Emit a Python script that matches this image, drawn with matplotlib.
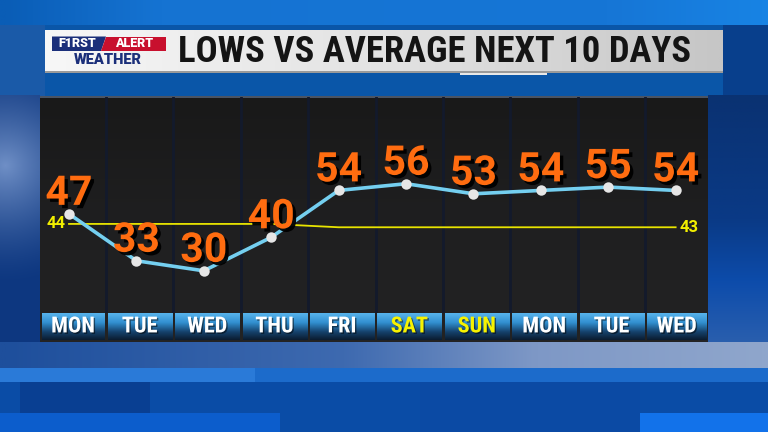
import numpy as np
import matplotlib
matplotlib.use('Agg')
import matplotlib.pyplot as plt
from matplotlib import font_manager as fm
from matplotlib.patches import Rectangle, Polygon
from matplotlib.colors import to_rgb
import matplotlib.patheffects as pe

# ---------------- data ----------------
days = ['MON', 'TUE', 'WED', 'THU', 'FRI', 'SAT', 'SUN', 'MON', 'TUE', 'WED']
lows = [47, 33, 30, 40, 54, 56, 53, 54, 55, 54]
avg_lows = [44, 44, 44, 44, 43, 43, 43, 43, 43, 43]
weekend = ['SAT', 'SUN']
title = 'LOWS VS AVERAGE NEXT 10 DAYS'

# ---------------- fonts ----------------
names = {f.name for f in fm.fontManager.ttflist}


def pick(*cands):
    for n in cands:
        if n in names:
            return n
    return 'DejaVu Sans'


COND = pick('Roboto Condensed', 'Liberation Sans Narrow', 'Roboto')
MAIN = pick('Roboto', 'Liberation Sans')
narrow = COND in ('Roboto Condensed', 'Liberation Sans Narrow')

fig = plt.figure(figsize=(7.68, 4.32), dpi=100)

# ---------------- background (pixel axes) ----------------
bg = fig.add_axes([0, 0, 1, 1])
bg.set_xlim(0, 768)
bg.set_ylim(432, 0)
bg.axis('off')


def rect(x0, y0, x1, y1, color, z=0, **kw):
    bg.add_patch(Rectangle((x0, y0), x1 - x0, y1 - y0, facecolor=color,
                           lw=0, zorder=z, **kw))


def grad(x0, y0, x1, y1, stops, horizontal=False, z=0.5):
    n = 64
    t = np.linspace(0, 1, n)
    pos = [s[0] for s in stops]
    cols = np.array([to_rgb(s[1]) for s in stops])
    arr = np.stack([np.interp(t, pos, cols[:, k]) for k in range(3)], axis=-1)
    arr = arr[np.newaxis, :, :] if horizontal else arr[:, np.newaxis, :]
    bg.imshow(arr, extent=[x0, x1, y1, y0], origin='upper', aspect='auto',
              interpolation='bilinear', zorder=z)


def fit_text(txt, width, max_size):
    fig.canvas.draw()
    w = txt.get_window_extent().width
    txt.set_fontsize(min(max_size, txt.get_fontsize() * width / w))


rect(0, 0, 768, 432, '#0b4596')
grad(0, 0, 768, 30, [(0, '#0a5db6'), (0.2, '#1573d2'), (0.8, '#1676d6'), (1, '#1883e4')], horizontal=True)
rect(0, 25, 768, 100, '#0a56a8', z=0.6)
rect(723, 25, 768, 100, '#083f8c', z=0.7)
rect(0, 25, 45, 97, '#1a5aa8', z=0.7)
# left textured area
yy, xx = np.mgrid[0:250, 0:40]
r = np.sqrt((xx - 5) ** 2 + (yy - 70) ** 2)
light = np.clip(1 - r / 120, 0, 1)
base = np.array(to_rgb('#0d3780'))
hi = np.array(to_rgb('#6f8fc6'))
img = base + (hi - base) * light[..., None] ** 1.5
bg.imshow(img, extent=[0, 40, 345, 95], origin='upper', aspect='auto', zorder=0.8)
# right side
grad(708, 95, 768, 345, [(0, '#0a3272'), (0.5, '#0a3a86'), (0.75, '#0d4cab'), (1, '#2a5fae')], z=0.8)
# lower cloudy strip
grad(0, 342, 768, 368, [(0, '#1e4f9c'), (0.45, '#3e6ab0'), (0.7, '#7e98c6'), (1, '#8fa6cc')], horizontal=True, z=0.8)
rect(0, 368, 768, 382, '#1c6bcb', z=0.9)
rect(0, 368, 255, 382, '#2a7ad8', z=0.95)
rect(0, 382, 768, 432, '#0a4ca6', z=0.9)
rect(20, 382, 150, 432, '#093f92', z=0.95)
rect(420, 382, 640, 432, '#0b4aa4', z=0.95)
rect(0, 413, 280, 432, '#0c5dcc', z=1)
rect(640, 413, 768, 432, '#1272ea', z=1)

# banner
grad(45, 30, 723, 73, [(0, '#f7f7f7'), (0.6, '#dedede'), (1, '#c6c6c6')], horizontal=True, z=2)
rect(45, 71, 723, 73, '#9a9a9a', z=2.1)
rect(460, 73, 547, 75, '#e8e8e8', z=2.1)

# logo
bg.add_patch(Polygon([(52, 36.5), (106, 36.5), (101, 51), (52, 51)], closed=True,
                     facecolor='#1b2f7a', lw=0, zorder=3))
bg.add_patch(Polygon([(106, 36.5), (166, 36.5), (166, 51), (101, 51)], closed=True,
                     facecolor='#c8102e', lw=0, zorder=3))
bg.text(77, 43.8, 'F1RST', ha='center', va='center', color='white', fontsize=9,
        fontweight='heavy', family=MAIN, zorder=4)
bg.text(134, 43.8, 'ALERT', ha='center', va='center', color='white', fontsize=9,
        fontweight='heavy', family=MAIN, zorder=4)
bg.text(108, 60, 'WEATHER', ha='center', va='center', color='#1b2f7a', fontsize=10.5,
        fontweight='heavy', family=MAIN, zorder=4)

# title
t = bg.text(178, 52, title, ha='left', va='center', color='#141414',
            fontsize=24, fontweight='bold', family=COND, zorder=4)
fit_text(t, 514, 27)

# dark panel
grad(40, 97, 708, 342, [(0, '#191919'), (0.5, '#1f1f20'), (1, '#232324')], z=2)
rect(40, 96, 708, 98, '#4a5464', z=2.1)

# ---------------- chart axes ----------------
xmin, xmax = -0.43, 9.48
ax = fig.add_axes([40 / 768, (432 - 313) / 432, 668 / 768, (313 - 97) / 432])
ax.set_xlim(xmin, xmax)
ax.set_ylim(17.4, 81.9)
ax.axis('off')
ax.patch.set_alpha(0)

x = np.arange(len(days))
edges = [xmin] + [k + 0.55 for k in range(len(days) - 1)] + [xmax]
for e in edges[1:-1]:
    ax.axvline(e, color='#131a2c', lw=2.0, zorder=1)

ax.plot(x, avg_lows, color='#e8e400', lw=1.3, zorder=2)
ax.text(x[0] - 0.05, avg_lows[0], str(avg_lows[0]), ha='right', va='center',
        color='#f2ef00', fontsize=12, fontweight='bold', family=MAIN, zorder=3)
ax.text(x[-1] + 0.06, avg_lows[-1], str(avg_lows[-1]), ha='left', va='center',
        color='#f2ef00', fontsize=12, fontweight='bold', family=MAIN, zorder=3)

ax.plot(x, lows, color='#74cff0', lw=2.6, zorder=4, solid_capstyle='round')
ax.plot(x, lows, 'o', color='#e6e6e6', ms=7.5, mew=0, zorder=5)

shadow = [pe.withSimplePatchShadow(offset=(2.4, -2.4), shadow_rgbFace='black', alpha=0.95)]
for xi, v in zip(x, lows):
    ax.annotate(str(v), (xi, v), xytext=(0, 6.5), textcoords='offset points',
                ha='center', va='baseline', fontsize=29.5, fontweight='bold',
                color='#ff6c10', family=MAIN, zorder=6, path_effects=shadow)

# ---------------- day label bar ----------------
lb = fig.add_axes([40 / 768, (432 - 341) / 432, 668 / 768, 28 / 432])
lb.set_xlim(xmin, xmax)
lb.set_ylim(0, 1)
lb.axis('off')
lb.patch.set_alpha(0)
stops = [(0, '#58b4ec'), (0.35, '#3290d0'), (0.7, '#15426c'), (1, '#0b1c30')]
tt = np.linspace(0, 1, 64)
cols = np.array([to_rgb(s[1]) for s in stops])
garr = np.stack([np.interp(tt, [s[0] for s in stops], cols[:, k]) for k in range(3)], axis=-1)[:, None, :]
for i, d in enumerate(days):
    a, b = edges[i] + 0.025, edges[i + 1] - 0.025
    lb.imshow(garr, extent=[a, b, 0.05, 1], origin='upper', aspect='auto',
              interpolation='bilinear', zorder=1)
    lb.text((edges[i] + edges[i + 1]) / 2, 0.52, d, ha='center', va='center',
            color='#f7f200' if d in weekend else 'white',
            fontsize=16 if narrow else 14, fontweight='bold', family=COND, zorder=2,
            path_effects=[pe.withSimplePatchShadow(offset=(1, -1), shadow_rgbFace='black', alpha=0.5)])
lb.set_xlim(xmin, xmax)
lb.set_ylim(0, 1)

fig.savefig('out.png', dpi=100)
